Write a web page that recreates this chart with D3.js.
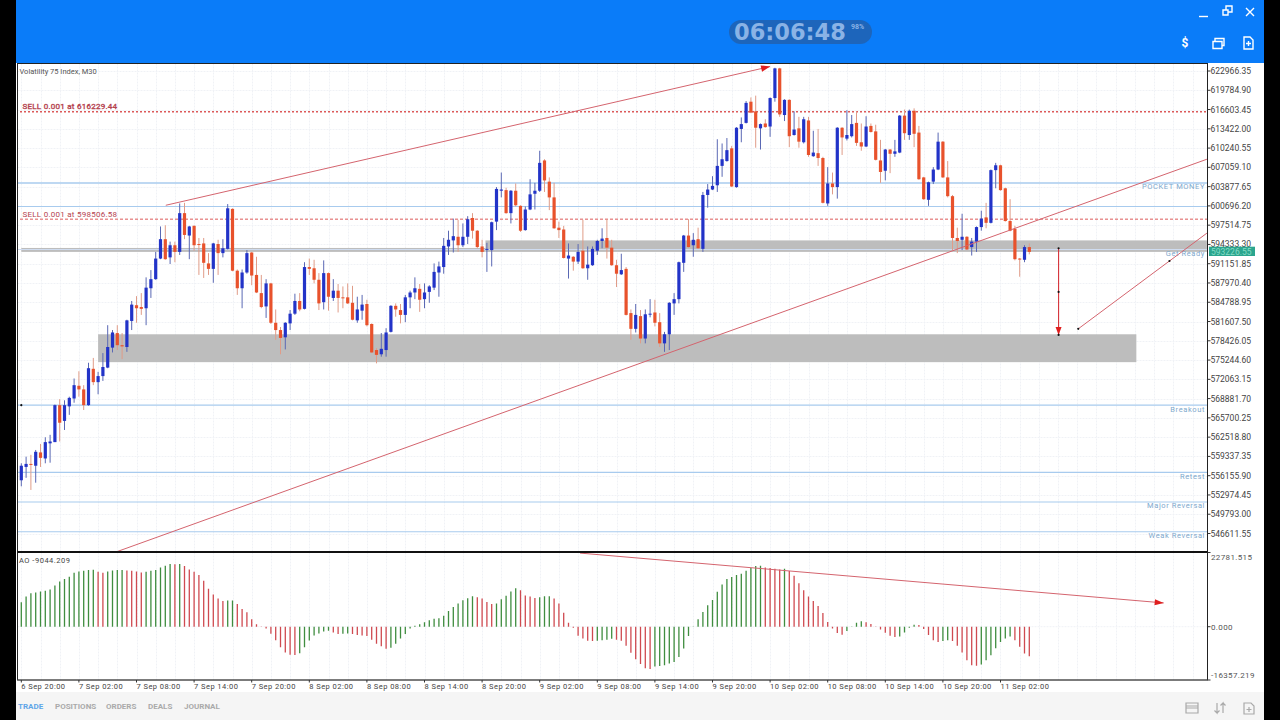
<!DOCTYPE html>
<html><head><meta charset="utf-8">
<script src="https://cdn.jsdelivr.net/npm/d3@7"></script>
<style>html,body{margin:0;padding:0;background:#000;overflow:hidden}svg{display:block}text{font-family:Roboto,sans-serif}</style>
</head><body><svg id="c" width="1280" height="720"></svg>
<script>
// prices in thousands, one candle per 30 minutes
const opens=[555.4,557.6,558.1,557.8,560.0,559.0,561.5,561.7,567.8,565.2,
567.6,568.9,571.0,570.4,567.8,573.8,571.6,572.6,574.0,577.3,
579.7,577.7,577.4,581.7,584.3,584.0,583.8,587.1,588.6,592.0,
595.2,592.2,594.2,593.1,599.5,595.8,597.4,594.4,594.5,591.2,
590.3,594.4,592.9,593.6,600.2,590.0,587.1,589.7,593.0,589.3,
586.3,584.1,587.9,581.4,580.2,579.0,581.3,582.9,585.0,583.7,
590.6,590.4,588.5,584.8,589.6,585.5,586.7,585.6,585.6,584.7,
581.8,583.4,584.5,581.2,576.9,576.2,576.9,579.9,584.2,583.5,
582.7,585.6,586.4,587.0,585.3,586.5,587.2,589.7,590.6,594.0,
595.0,595.6,594.2,595.6,598.7,596.6,594.0,593.5,593.4,598.1,
603.2,603.3,599.5,603.2,600.7,596.7,600.1,602.7,603.2,608.2,
604.7,602.1,597.1,596.8,592.0,592.3,591.5,593.3,590.4,590.9,
593.3,594.9,595.4,593.8,590.9,589.4,590.3,583.0,580.4,582.5,
578.8,582.8,583.1,581.5,578.0,579.5,584.6,585.3,591.3,595.8,
594.2,595.2,593.6,602.5,603.4,604.1,607.3,608.1,610.2,603.8,
613.4,614.4,617.9,616.3,613.5,614.3,613.8,618.5,623.4,615.7,
618.2,612.4,613.5,611.2,614.8,608.9,609.4,608.6,601.1,604.4,
603.8,613.6,611.8,612.2,614.4,611.2,610.5,613.9,613.0,608.2,
606.5,610.0,609.3,609.5,615.6,612.4,616.4,612.8,605.4,601.7,
604.7,606.7,611.3,605.4,602.3,595.4,595.1,595.6,593.9,594.8,
597.2,598.8,597.9,606.6,607.4,603.6,598.2,596.9,592.0,591.8,593.9];
const highs=[558.2,559.3,559.6,560.4,561.4,562.5,562.9,567.9,568.8,568.6,
569.2,572.2,573.4,571.1,574.8,575.6,573.3,576.4,581.0,580.2,
581.0,579.7,581.9,585.0,585.8,586.3,588.9,590.1,593.1,597.3,
597.5,594.8,594.8,601.1,601.2,597.4,597.5,595.4,595.4,592.9,
594.6,595.1,595.2,601.0,600.3,590.2,590.2,593.4,593.1,592.3,
589.3,588.6,588.0,583.6,580.7,581.5,583.5,586.2,586.3,591.4,
592.0,591.8,589.6,591.7,589.7,588.6,587.8,587.4,587.9,587.5,
585.7,586.0,585.2,581.3,577.2,579.7,580.5,584.3,584.6,584.5,
586.0,586.7,588.9,587.8,587.9,587.6,591.2,591.5,595.4,596.6,
598.6,598.4,597.8,599.0,599.5,596.7,595.1,594.6,598.1,603.8,
606.2,603.7,603.3,604.4,600.8,600.6,605.1,604.5,609.8,608.4,
605.4,604.5,598.1,597.4,594.5,592.4,594.4,598.4,594.0,594.0,
595.1,597.0,598.5,595.1,591.8,592.8,590.6,583.6,584.5,583.5,
583.6,585.3,585.2,583.0,579.9,584.8,586.3,591.5,595.9,598.5,
596.2,597.1,603.0,604.3,605.6,611.7,611.0,611.9,610.6,613.7,
615.3,618.0,618.6,618.9,614.3,615.0,618.6,623.5,623.5,618.3,
618.3,616.3,615.4,615.4,615.4,613.1,613.4,608.8,607.1,606.2,
613.7,613.7,616.5,615.7,616.3,614.3,615.5,614.3,614.1,611.6,
610.1,610.1,611.6,615.7,616.6,616.6,616.8,613.9,605.5,604.7,
607.1,612.8,611.4,608.1,602.5,597.1,599.4,595.7,595.4,597.3,
599.9,601.2,606.7,607.8,607.5,603.7,601.8,597.4,592.1,594.2,594.5];
const lows=[554.4,555.8,553.8,555.0,557.6,558.2,558.3,561.7,561.8,563.7,
566.2,568.2,569.2,567.0,567.7,571.1,569.6,571.8,573.9,576.5,
576.9,575.4,576.6,580.2,581.4,582.7,581.0,585.5,588.5,591.9,
591.8,591.1,591.4,592.6,595.2,591.9,593.3,589.3,588.8,589.3,
588.0,589.3,592.2,593.5,589.9,586.0,583.8,589.5,587.6,586.3,
583.8,582.2,581.2,578.6,576.2,577.0,580.2,582.7,583.3,583.6,
589.3,587.9,583.5,583.6,583.4,585.0,583.1,583.8,584.5,581.8,
581.4,581.9,580.8,576.4,574.7,575.8,575.8,579.8,582.4,581.3,
581.5,583.8,585.3,583.2,583.8,584.7,586.8,585.7,589.5,592.6,
593.0,593.1,593.9,594.4,595.3,593.7,592.2,589.8,590.7,596.7,
602.1,599.4,597.8,600.6,596.4,596.6,600.0,600.1,603.0,603.0,
600.0,596.9,595.4,592.0,588.7,590.0,591.1,590.3,588.5,590.8,
592.6,593.7,592.0,590.8,587.3,589.3,582.6,578.6,579.8,578.0,
578.0,582.3,580.8,577.4,576.6,576.9,582.7,584.6,589.8,593.8,
592.3,593.6,593.1,600.4,603.3,603.0,605.5,608.0,603.8,603.7,
611.2,614.3,616.0,610.3,610.0,613.6,612.1,617.9,615.4,614.7,
610.4,612.3,610.3,611.0,608.8,608.8,607.3,601.1,600.7,602.6,
601.9,609.1,611.5,612.0,610.6,609.8,610.4,612.8,608.2,604.5,
604.9,606.1,608.8,609.4,611.6,611.6,610.4,605.0,601.7,600.7,
604.3,606.6,605.3,602.1,593.4,592.9,593.4,593.4,592.5,593.1,
596.6,597.0,597.8,603.6,603.2,598.1,596.5,591.7,589.0,591.4,592.7];
const closes=[557.8,558.1,558.0,560.1,559.1,561.7,561.8,567.8,564.9,567.8,
569.0,571.1,570.4,567.8,573.9,571.6,572.6,574.1,577.4,579.8,
577.7,577.5,581.8,584.4,583.8,583.7,587.2,588.6,592.0,595.2,
591.9,594.2,593.1,599.5,595.9,597.3,594.2,594.3,591.3,590.3,
594.5,592.9,593.7,600.3,590.0,587.1,589.7,592.9,589.2,586.4,
584.0,587.9,581.4,580.2,578.9,581.4,582.9,585.0,583.6,590.6,
590.3,588.5,584.6,589.6,585.7,586.7,585.5,585.5,584.6,581.9,
583.6,584.4,581.0,576.5,576.1,577.1,579.8,584.2,583.6,582.7,
585.6,586.4,587.1,585.2,586.4,587.4,589.8,590.7,594.1,595.1,
595.7,594.2,595.6,598.5,596.6,593.9,593.1,593.6,598.0,603.5,
603.4,599.5,603.2,600.8,596.6,600.1,602.6,603.2,607.8,604.9,
602.1,597.0,596.7,592.1,592.5,591.5,593.1,590.4,591.0,593.6,
594.9,595.3,593.8,590.9,589.5,590.1,582.7,580.4,582.7,578.8,
582.8,582.9,581.4,578.0,579.5,584.7,585.3,591.4,595.8,593.9,
595.1,593.7,602.5,603.4,604.0,607.3,608.4,609.9,603.9,613.6,
614.2,617.7,616.1,613.6,614.2,613.7,618.5,623.4,615.8,618.2,
612.2,613.3,611.3,615.0,609.1,609.5,608.6,601.2,604.4,603.8,
613.6,612.0,612.4,614.2,611.1,610.5,613.8,612.9,608.3,606.3,
610.0,609.3,609.7,615.6,612.7,616.4,612.6,605.1,601.8,604.6,
606.7,611.3,605.4,602.3,595.4,594.9,595.6,593.5,594.8,597.2,
598.6,597.9,606.6,607.4,603.3,598.2,596.6,591.9,591.9,593.9,593.1];
// Awesome Oscillator, thousands
const aoValues=[7.51,9.26,10.29,10.50,10.80,11.01,11.42,12.66,13.89,14.61,
15.33,16.57,16.98,17.18,17.39,17.49,16.88,16.57,16.98,17.29,
17.39,17.40,17.29,17.18,16.98,16.67,16.88,17.18,17.39,18.21,
18.73,19.24,19.14,19.24,18.62,17.60,16.88,15.85,14.10,11.63,
9.88,8.64,7.92,8.03,8.04,7.00,5.45,4.42,2.26,0.72,
0.10,-0.51,-2.16,-4.12,-6.28,-7.92,-8.64,-8.70,-8.13,-6.28,
-4.22,-2.68,-2.06,-1.44,-1.23,-1.75,-2.26,-2.16,-2.06,-2.26,
-2.57,-2.68,-2.88,-4.01,-5.25,-5.97,-6.79,-6.48,-5.25,-3.60,
-2.26,-0.51,0.31,0.72,1.34,1.96,2.47,2.57,3.40,4.84,
6.07,7.10,8.13,8.75,9.36,9.06,8.64,7.61,7.00,7.10,
8.44,9.47,10.80,11.83,11.22,9.57,9.26,8.85,9.06,9.36,
9.37,8.64,7.10,4.32,1.23,-0.31,-2.78,-3.60,-4.32,-4.42,
-4.32,-4.12,-4.01,-3.70,-4.01,-4.32,-5.87,-8.03,-9.98,-11.42,
-12.76,-12.97,-12.25,-12.04,-11.83,-11.32,-10.80,-9.26,-6.69,-2.88,
0.05,2.26,4.53,6.59,8.23,10.70,12.97,14.61,15.23,15.85,
16.26,17.18,18.01,18.62,18.73,18.21,18.01,17.80,17.60,17.80,
17.08,15.64,13.38,11.22,9.26,7.92,6.38,4.22,1.44,-0.51,
-1.96,-2.47,-1.34,-0.05,1.23,1.65,1.34,0.82,-0.05,-0.82,
-1.85,-2.78,-3.19,-2.98,-1.75,-0.31,0.62,0.51,-0.72,-2.57,
-4.12,-4.73,-4.42,-4.12,-4.42,-5.87,-7.92,-10.29,-11.83,-12.00,
-11.63,-10.29,-8.75,-6.59,-4.73,-3.60,-2.98,-4.12,-6.17,-8.23,-9.044];
const priceTicks=["622966.35","619784.90","616603.45","613422.00","610240.55","607059.10","603877.65","600696.20","597514.75","594333.30","591151.85","587970.40","584788.95","581607.50","578426.05","575244.60","572063.15","568881.70","565700.25","562518.80","559337.35","556155.90","552974.45","549793.00","546611.55"];
const timeLabels=["6 Sep 20:00","7 Sep 02:00","7 Sep 08:00","7 Sep 14:00","7 Sep 20:00","8 Sep 02:00","8 Sep 08:00","8 Sep 14:00","8 Sep 20:00","9 Sep 02:00","9 Sep 08:00","9 Sep 14:00","9 Sep 20:00","10 Sep 02:00","10 Sep 08:00","10 Sep 14:00","10 Sep 20:00","11 Sep 02:00"];
const aoTicks=[["22781.515",22781.515],["0.000",0],["-16357.219",-16357.219]];
// levels in price units
const levelPrices=[604480,600600,593500,567800,556700,551800,546900];
const levelNames=[["POCKET MONEY",603900],["Get Ready",593000],["Breakout",567100],["Retest",556100],["Major Reversal",551300],["Weak Reversal",546300]];
const sellOrders=[[616229.44,"SELL 0.001 at 616229.44"],[598506.58,"SELL 0.001 at 598506.58"]];
const zones=[[96.7,247,595.0,593.1],[0,96.7,593.75,593.1],[16,232.3,579.5,574.9]];
// trend lines: [bar, price] pairs
const trendA=[[30.1,600800],[156,623700]];
const trendB=[[19.7,543550],[247,608400]];
const trendC=[[220.2,580400],[239.2,591600],[247,596200]];
const dropArrow=[[216.1,593700],[216.1,586500],[216.1,579400]];
const aoTrend=[[116.4,22600],[238,7300]];
const markerDot=[[0,567800]];

const L=17.5,R=1207.5,T=63.5,B=551.5,AT=552.5,AB=680;
const svg=d3.select("#c");
const x=d3.scaleLinear().domain([0,210]).range([21.3,1029.3]);
const y=d3.scaleLinear().domain([622966.35,546611.55]).range([71,533.5]);
const ya=d3.scaleLinear().domain([22781.515,-16357.219]).range([AT,AB]);

// window chrome
svg.append("rect").attr("x",16).attr("y",0).attr("width",1248).attr("height",720).attr("fill","#fff");
svg.append("rect").attr("x",16).attr("y",0).attr("width",1248).attr("height",63).attr("fill","#0a7cf9");
svg.append("rect").attr("x",16).attr("y",692).attr("width",1248).attr("height",28).attr("fill","#f5f5f5");
svg.append("rect").attr("x",729).attr("y",20).attr("width",143).attr("height",24).attr("rx",12).attr("fill","#1d65bb");
svg.append("text").attr("x",734).attr("y",40).attr("font-size",22.5).attr("font-weight",700).attr("fill","#8ab3e6").style("font-family","'DejaVu Sans'").text("06:06:48");
svg.append("text").attr("x",851).attr("y",29).attr("font-size",7).attr("font-weight",700).attr("fill","#8ab3e6").text("98%");
const ic=svg.append("g").attr("fill","none").attr("stroke","#fff").attr("stroke-width",1.4);
ic.append("path").attr("d","M1199 16.5h9");
ic.append("path").attr("d","M1223 10h5v5h-5zM1226 10V6h6v6h-4");
ic.append("path").attr("d","M1246 8l8 8M1254 8l-8 8");
ic.append("path").attr("d","M1213 41.5h9v7h-9zM1215 41.5v-3h9v7h-2");
ic.append("path").attr("d","M1244 37h6l3 3v9h-9zM1248.5 41v5M1246 43.5h5");
svg.append("text").attr("x",1185).attr("y",47).attr("text-anchor","middle").attr("font-size",12).attr("font-weight",700).attr("fill","#fff").text("$");
const ib=svg.append("g").attr("fill","none").attr("stroke","#a9a9a9").attr("stroke-width",1.2);
ib.append("path").attr("d","M1186 703h12v10h-12zM1186 706h12M1186 708h12");
ib.append("path").attr("d","M1217 703v10l-2.5-2.5M1217 713l2.5-2.5M1223 713v-10l-2.5 2.5M1223 703l2.5 2.5");
ib.append("path").attr("d","M1244 703h7l3 3v8h-10zM1249 707v5M1246.5 709.5h5");
[["TRADE",18,"#5fa6e8"],["POSITIONS",55,"#aaa"],["ORDERS",106,"#aaa"],["DEALS",148,"#aaa"],["JOURNAL",184,"#aaa"]].forEach(t=>{
 svg.append("text").attr("x",t[1]).attr("y",709).attr("font-size",8).attr("font-weight",700).attr("fill",t[2]).text(t[0]);});

// grid
const grid=svg.append("g").attr("stroke","#f0f2f6").attr("stroke-width",1).attr("stroke-dasharray","2 1");
d3.range(0,62).forEach(k=>{const gx=Math.round(x(k*4))+0.5; if(gx<R){
  grid.append("line").attr("x1",gx).attr("x2",gx).attr("y1",T).attr("y2",B);
  grid.append("line").attr("x1",gx).attr("x2",gx).attr("y1",AT).attr("y2",AB);}});
priceTicks.forEach(t=>{grid.append("line").attr("x1",L).attr("x2",R).attr("y1",Math.round(y(+t))+.5).attr("y2",Math.round(y(+t))+.5);});
grid.append("line").attr("x1",L).attr("x2",R).attr("y1",ya(0)).attr("y2",ya(0));

const defs=svg.append("defs");
defs.append("clipPath").attr("id","cm").append("rect").attr("x",L).attr("y",T).attr("width",R-L).attr("height",B-T);
defs.append("clipPath").attr("id","ca").append("rect").attr("x",L).attr("y",AT).attr("width",R-L).attr("height",AB-AT);
const main=svg.append("g").attr("clip-path","url(#cm)");

// zones
main.selectAll("rect.z").data(zones).join("rect").attr("class","z")
 .attr("x",d=>x(d[0])).attr("width",d=>x(d[1])-x(d[0])).attr("y",d=>y(d[2]*1000)).attr("height",d=>y(d[3]*1000)-y(d[2]*1000)).attr("fill","#bdbdbd");
// levels
main.selectAll("line.l").data(levelPrices).join("line").attr("class","l").attr("x1",L).attr("x2",R)
 .attr("y1",d=>y(d)).attr("y2",d=>y(d)).attr("stroke",(d,i)=>i==2?"#cfdcf0":"#a8cbee").attr("stroke-width",(d,i)=>i==0?1.4:1.1);
main.selectAll("text.n").data(levelNames).join("text").attr("class","n").attr("x",1205).attr("text-anchor","end")
 .attr("y",d=>y(d[1])+3).attr("font-size",7.5).attr("letter-spacing",.6).attr("fill","#7ea8cc").text(d=>d[0]);
// sell orders
main.selectAll("line.s").data(sellOrders).join("line").attr("class","s").attr("x1",20).attr("x2",R)
 .attr("y1",d=>y(d[0])).attr("y2",d=>y(d[0])).attr("stroke","#dc5a5a").attr("stroke-width",(d,i)=>i==0?1.6:1).attr("stroke-dasharray",(d,i)=>i==0?"2 2":"3 2");
main.selectAll("text.s").data(sellOrders).join("text").attr("class","s").attr("x",22.5).attr("y",d=>y(d[0])-2.5).attr("font-size",8)
 .attr("letter-spacing",.25).attr("fill","#b5434f").attr("stroke","#b5434f").attr("stroke-width",(d,i)=>i==0?.35:0).text(d=>d[1]);

// candles
const idx=d3.range(opens.length);
main.selectAll("line.w").data(idx).join("line").attr("class","w")
 .attr("x1",i=>x(i)).attr("x2",i=>x(i)).attr("y1",i=>y(highs[i]*1000)).attr("y2",i=>y(lows[i]*1000))
 .attr("stroke",i=>closes[i]>=opens[i]?"#5a68b4":"#e09c88").attr("stroke-width",1);
main.selectAll("rect.b").data(idx).join("rect").attr("class","b")
 .attr("x",i=>x(i)-1.6).attr("width",3.2)
 .attr("y",i=>y(Math.max(opens[i],closes[i])*1000))
 .attr("height",i=>Math.max(1,Math.abs(y(opens[i]*1000)-y(closes[i]*1000))))
 .attr("fill",i=>closes[i]>=opens[i]?"#2233c8":"#e8522c");

// trend lines
const ln=d3.line().x(d=>x(d[0])).y(d=>y(d[1]));
[trendA,trendB,trendC].forEach(t=>main.append("path").attr("d",ln(t)).attr("fill","none").attr("stroke","#d4646e").attr("stroke-width",1));
main.append("path").attr("d",ln(dropArrow)).attr("fill","none").attr("stroke","#d5333a").attr("stroke-width",1.1);
function head(g,p,q,sy,len,w){const px=x(p[0]),py=sy(p[1]),qx=x(q[0]),qy=sy(q[1]);const a=Math.atan2(qy-py,qx-px);
 const bx=qx-len*Math.cos(a),by=qy-len*Math.sin(a);
 g.append("path").attr("d",`M${qx},${qy}L${bx-w*Math.sin(a)},${by+w*Math.cos(a)}L${bx+w*Math.sin(a)},${by-w*Math.cos(a)}Z`).attr("fill","#e01f1f");}
head(main,trendA[0],trendA[1],y,9,3.2);
head(main,dropArrow[0],dropArrow[2],y,8,3);
const dots=[...trendC.slice(0,2),...dropArrow,...markerDot];
main.selectAll("circle.d").data(dots).join("circle").attr("class","d").attr("cx",d=>x(d[0])).attr("cy",d=>y(d[1])).attr("r",1.1).attr("fill","#111");

// AO
const ao=svg.append("g").attr("clip-path","url(#ca)");
ao.selectAll("line.a").data(idx).join("line").attr("class","a")
 .attr("x1",i=>x(i)).attr("x2",i=>x(i)).attr("y1",ya(0)).attr("y2",i=>ya(aoValues[i]*1000))
 .attr("stroke",i=>(i==0||aoValues[i]>=aoValues[i-1])?"#3f8d3f":"#cf4a50").attr("stroke-width",1.3);
const la=d3.line().x(d=>x(d[0])).y(d=>ya(d[1]));
ao.append("path").attr("d",la(aoTrend)).attr("fill","none").attr("stroke","#d4646e").attr("stroke-width",1);
head(ao,aoTrend[0],aoTrend[1],ya,9,3);

// frame
svg.append("rect").attr("x",L).attr("y",T).attr("width",R-L).attr("height",AB-T).attr("fill","none").attr("stroke","#222").attr("stroke-width",1);
svg.append("line").attr("x1",L).attr("x2",R).attr("y1",552).attr("y2",552).attr("stroke","#111").attr("stroke-width",2);
svg.append("line").attr("x1",L).attr("x2",R).attr("y1",AB).attr("y2",AB).attr("stroke","#666").attr("stroke-width",1);

// axes
const pg=svg.append("g");
priceTicks.forEach(t=>{const v=+t;
 pg.append("line").attr("x1",R).attr("x2",R+3).attr("y1",y(v)).attr("y2",y(v)).attr("stroke","#333");
 pg.append("text").attr("x",1210.5).attr("y",y(v)+3).attr("font-size",8.5).attr("fill","#444").text(t);});
svg.append("rect").attr("x",1209).attr("y",246.7).attr("width",46).attr("height",9.3).attr("fill","#2ba58e");
svg.append("text").attr("x",1211).attr("y",254.5).attr("font-size",8.5).attr("fill","#86dcc4").text("593226.55");
aoTicks.forEach(t=>{
 pg.append("text").attr("x",1211).attr("y",t[1]==22781.515?560:(t[1]==0?630:678)).attr("font-size",8).attr("letter-spacing",.35).attr("fill","#555").text(t[0]);
 pg.append("line").attr("x1",R).attr("x2",R+3).attr("y1",ya(t[1])).attr("y2",ya(t[1])).attr("stroke","#333");});
timeLabels.forEach((t,k)=>{const tx=x(k*12);
 svg.append("line").attr("x1",tx).attr("x2",tx).attr("y1",AB).attr("y2",AB+2.5).attr("stroke","#333");
 svg.append("text").attr("x",tx).attr("y",689).attr("font-size",7.5).attr("letter-spacing",.45).attr("fill","#444").text(t);});
svg.append("text").attr("x",19.5).attr("y",73.5).attr("font-size",7.5).attr("fill","#555").text("Volatility 75 Index, M30");
svg.append("text").attr("x",19).attr("y",563).attr("font-size",7.5).attr("letter-spacing",.5).attr("fill","#444").text("AO -9044.209");
</script></body></html>
